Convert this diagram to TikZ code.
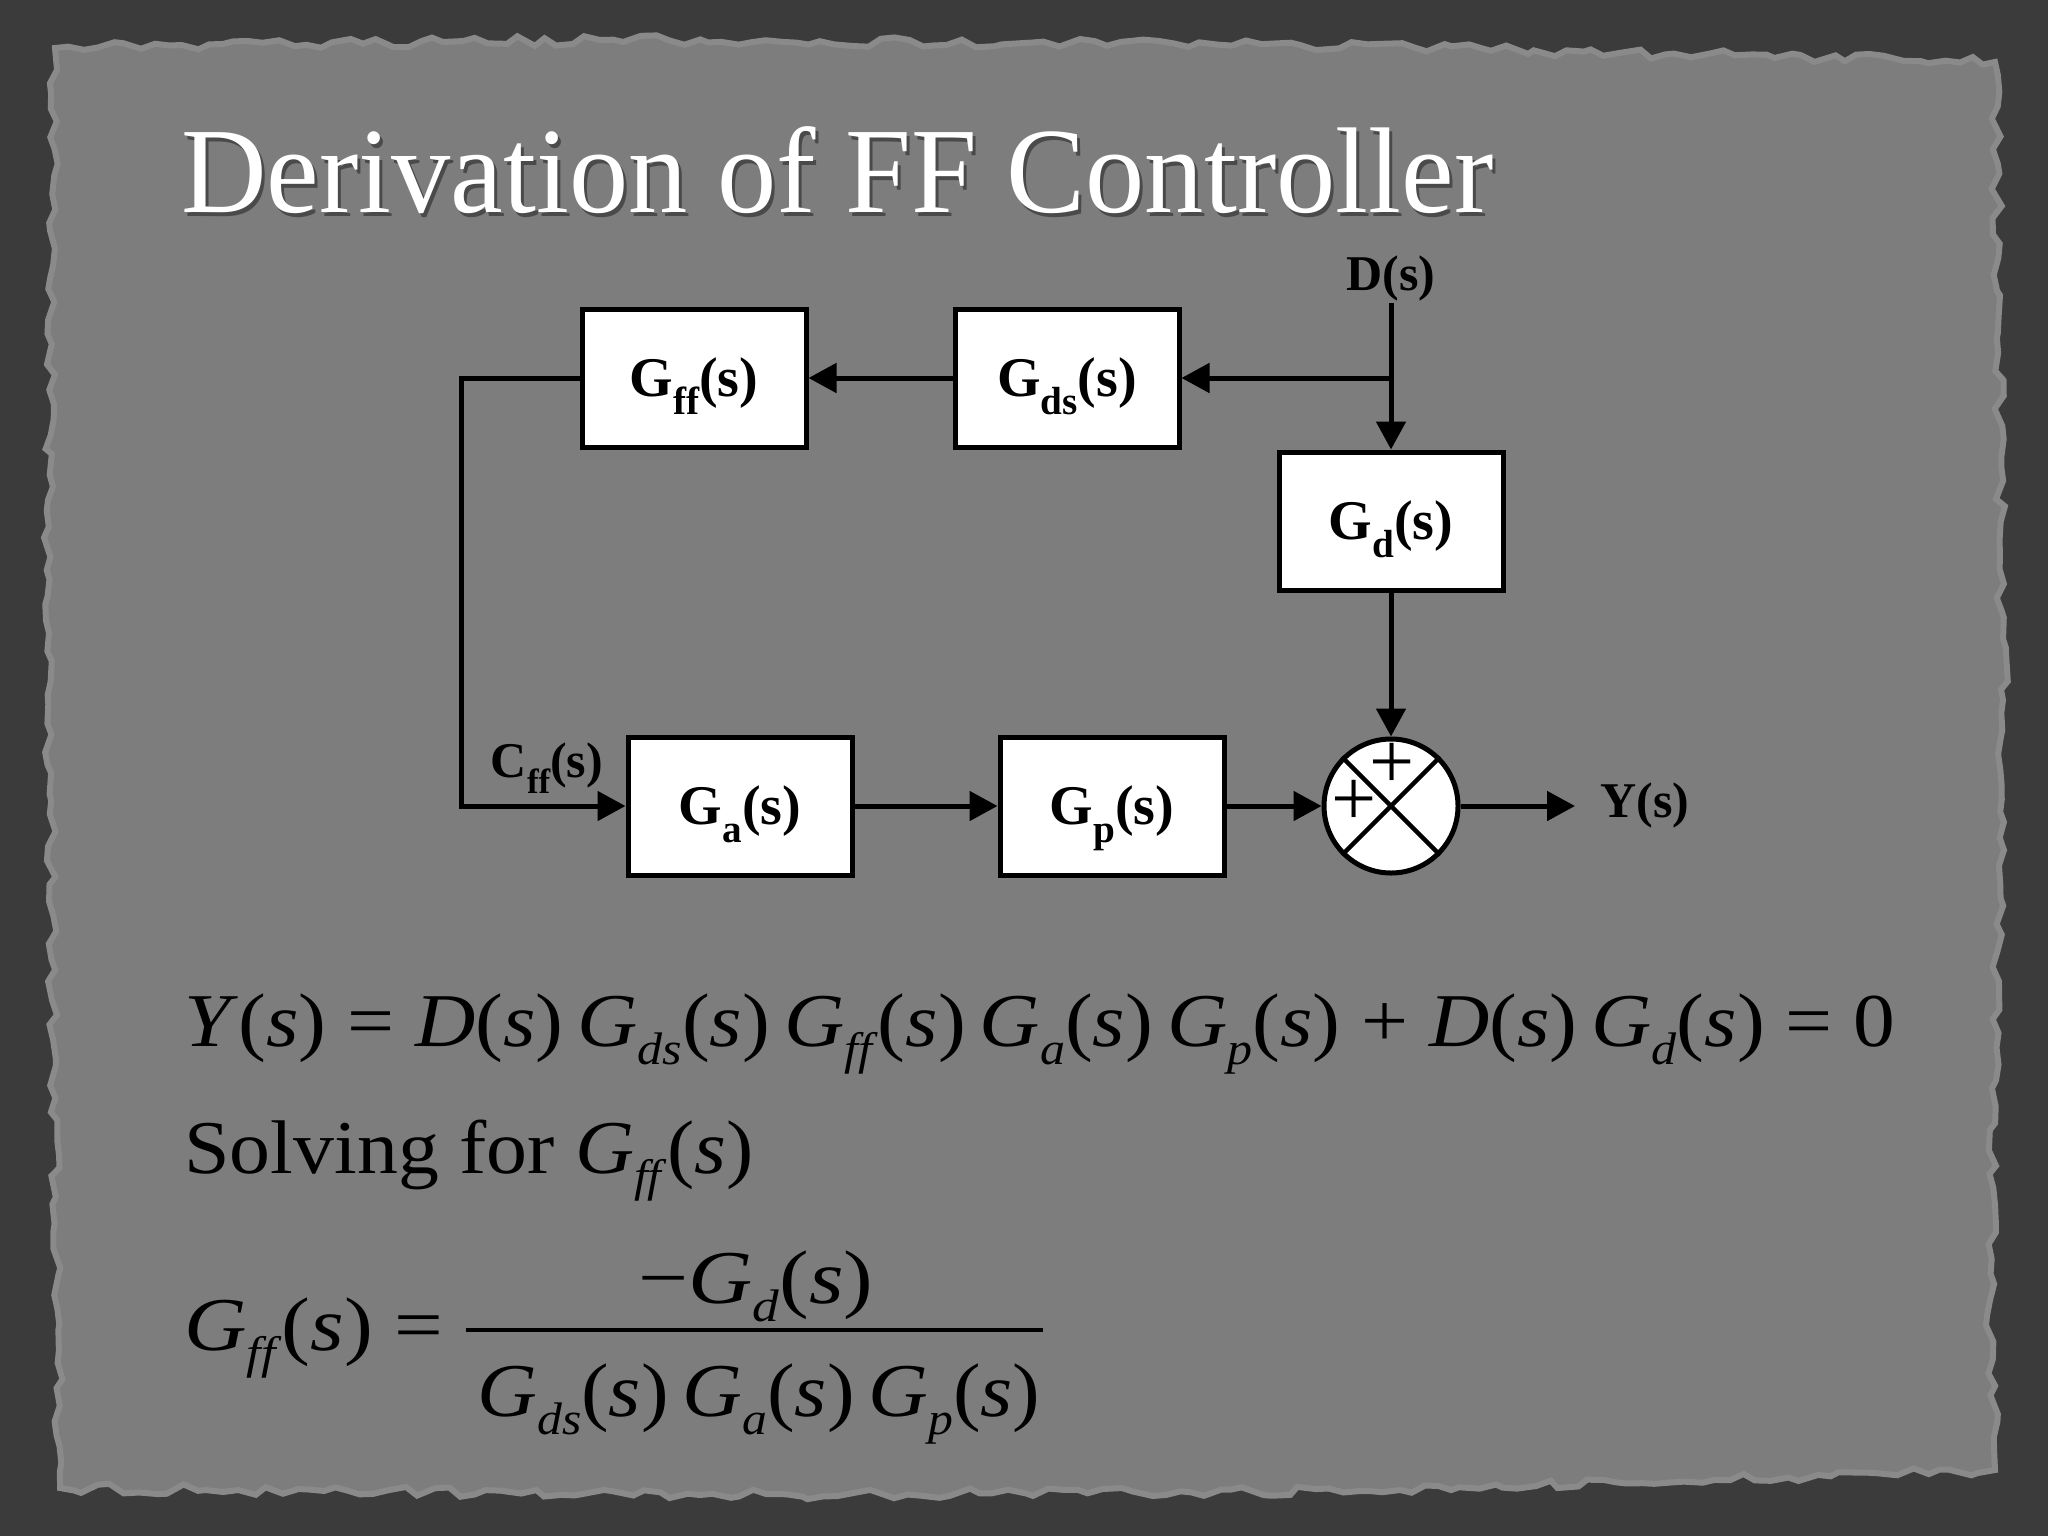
\documentclass[tikz,border=0pt]{standalone}
\usepackage{fontspec}
\setmainfont{Liberation Serif}
\usepackage{graphicx}
\usetikzlibrary{arrows.meta,decorations.pathmorphing}
\definecolor{outerbg}{HTML}{3B3B3B}
\definecolor{paper}{HTML}{7D7D7D}
\definecolor{paperedge}{HTML}{8A8A8A}
\definecolor{titleshadow}{HTML}{4A4A4A}
\newcommand\bsub[1]{\raisebox{-0.33em}{\scalebox{0.7}{#1}}}
\newcommand\isub[1]{\raisebox{-0.24em}{\scalebox{0.6}{\textit{#1}}}}
\newcommand\Gx[1]{\textit{G}\isub{#1}(\textit{s})}
\newcommand\Dx{\textit{D}(\textit{s})}
\begin{document}
\begin{tikzpicture}[x=0.5pt,y=-0.5pt,
  blk/.style={draw=black, line width=2.5pt, fill=white, minimum width=112pt, minimum height=69pt, inner sep=0pt, text height=18.5pt, text depth=0pt, font=\fontsize{28}{30}\selectfont\bfseries},
  conn/.style={line width=2.5pt, draw=black},
  arr/.style={conn, -{Triangle[length=14pt,width=14.5pt]}},
  lbl/.style={font=\fontsize{25}{27}\selectfont\bfseries, inner sep=0pt},
  plus/.style={font=\fontsize{40}{40}\selectfont, inner sep=0pt},
  eqn/.style={anchor=base west, inner sep=0pt, text=black, font=\fontsize{38}{40}\selectfont},
  ttl/.style={anchor=base west, inner sep=0pt, font=\fontsize{61}{64}\selectfont},
  ]
\useasboundingbox (0,0) rectangle (2048,1536);
% background
\fill[outerbg] (0,0) rectangle (2048,1536);
\pgfmathsetseed{7}
\path[fill=paper, draw=paperedge, line width=3pt, decorate, decoration={random steps, segment length=7pt, amplitude=2.5pt}]
  (55,48) -- (600,40) -- (1300,45) -- (1995,62) -- (2003,700) -- (1990,1300) -- (1995,1470) -- (1400,1490) -- (700,1495) -- (60,1488) -- (52,1000) -- (48,500) -- cycle;

% title
\node[ttl, text=titleshadow] (titlesh) at (184,216) {\resizebox{656pt}{\height}{Derivation of FF Controller}};
\node[ttl, text=white] (title) at (181,213) {\resizebox{656pt}{\height}{Derivation of FF Controller}};

% blocks
\node[blk] (gff) at (694,378) {G\bsub{ff}(s)};
\node[blk] (gds) at (1067,378) {G\bsub{ds}(s)};
\node[blk] (gd) at (1391,521) {G\bsub{d}(s)};
\node[blk] (ga) at (740,806) {G\bsub{a}(s)};
\node[blk] (gp) at (1112,806) {G\bsub{p}(s)};
\node[circle, draw=black, line width=2.5pt, fill=white, minimum size=67pt, inner sep=0pt] (sum) at (1391,806) {};
\draw[line width=2.2pt] (sum.north west) -- (sum.south east);
\draw[line width=2.2pt] (sum.north east) -- (sum.south west);
\node[plus] (p1) at (1392,766) {+};
\node[plus] (p2) at (1354,803) {+};

% labels
\node[lbl, anchor=base] (dlab) at (1391,290) {D(s)};
\node[lbl, anchor=base] (cff) at (547,777) {C\bsub{ff}(s)};
\node[lbl, anchor=base west] (ylab) at (1600,817) {Y(s)};

% connectors
\coordinate (dtop) at (1391,303);
\coordinate (br) at (1391,378);
\coordinate (cl) at (461,806);
\coordinate (yend) at (1575,806);
\draw[conn] (dtop) -- (br);
\draw[arr] (br) -- (gd.north);
\draw[arr] (br) -- (gds.east);
\draw[arr] (gds.west) -- (gff.east);
\draw[arr] (gff.west) -| (cl) -- (ga.west);
\draw[arr] (ga.east) -- (gp.west);
\draw[arr] (gp.east) -- (sum.west);
\draw[arr] (gd.south) -- (sum.north);
\draw[arr] (sum.east) -- (yend);

% equations
\node[eqn] (eq1) at (184,1046) {\resizebox{855.5pt}{\height}{\textit{Y}(\textit{s}) = \Dx\,\Gx{ds}\,\Gx{ff}\,\Gx{a}\,\Gx{p} + \Dx\,\Gx{d} = 0}};
\node[eqn] (eq2) at (184,1173) {\resizebox{284.5pt}{\height}{Solving for \Gx{ff}}};
\node[eqn] (lhs) at (184,1350) {\resizebox{129.5pt}{\height}{\Gx{ff} =}};
\node[eqn] (num) at (638,1303) {\resizebox{117.5pt}{\height}{−\Gx{d}}};
\node[eqn] (den) at (477,1416) {\resizebox{281.5pt}{\height}{\Gx{ds}\,\Gx{a}\,\Gx{p}}};
\coordinate (barL) at (466,1330);
\coordinate (barR) at (1043,1330);
\draw[line width=2pt] (barL) -- (barR);
\end{tikzpicture}
\end{document}
